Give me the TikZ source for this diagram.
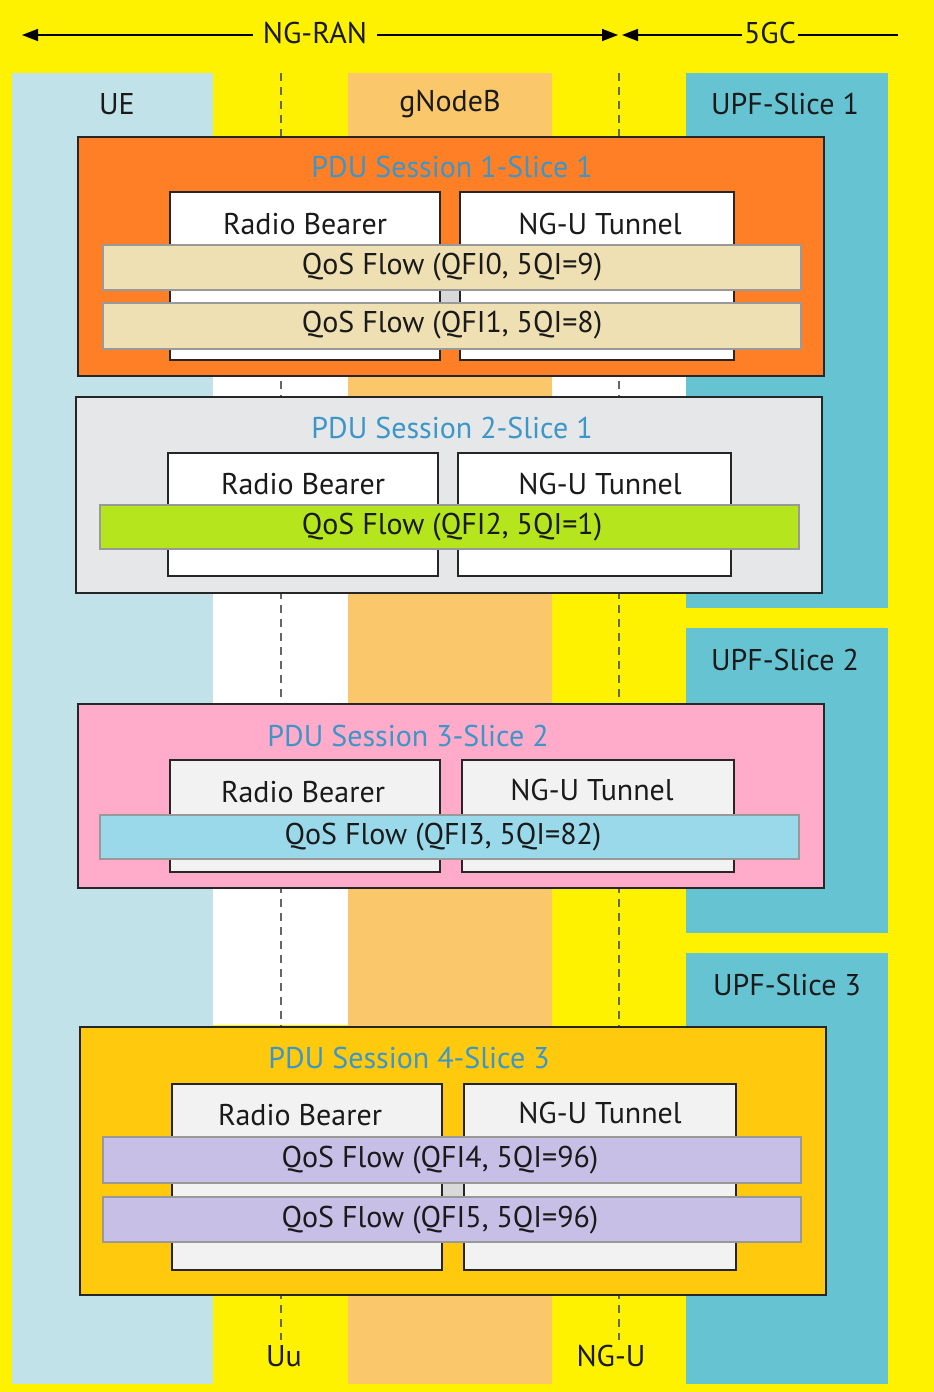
\documentclass[tikz,border=0pt]{standalone}
\usepackage{fontspec}
\setmainfont{PT Sans}
\usetikzlibrary{arrows.meta}
\definecolor{bgY}{HTML}{FFF200}
\definecolor{ueC}{HTML}{C0E2E8}
\definecolor{gnbC}{HTML}{FAC86A}
\definecolor{upfC}{HTML}{66C4D2}
\definecolor{s1C}{HTML}{FF7F27}
\definecolor{s2C}{HTML}{E6E7E8}
\definecolor{s3C}{HTML}{FFABC9}
\definecolor{s4C}{HTML}{FFC90E}
\definecolor{f01C}{HTML}{EEE0B3}
\definecolor{f2C}{HTML}{B5E61D}
\definecolor{f3C}{HTML}{99D9EA}
\definecolor{f45C}{HTML}{C8BFE7}
\definecolor{titC}{HTML}{3C96C8}
\definecolor{txtC}{HTML}{1A1A1A}
\begin{document}
\begin{tikzpicture}[x=1pt,y=-1pt,
  lbl/.style={font=\fontsize{30}{34}\selectfont,text=txtC},
  tit/.style={font=\fontsize{30}{34}\selectfont,text=titC},
  sess/.style={draw=black!85,line width=2.5pt},
  bear/.style={draw=black!85,line width=2.5pt},
  flow/.style={draw=black!40,line width=1.5pt},
  dsh/.style={draw=black!60,line width=1.5pt,dash pattern=on 8pt off 6pt},
  arr/.style={line width=1.5pt,-{Triangle[length=16pt,width=12pt]}}]
\fill[bgY] (0,0) rectangle (934,1392);
\useasboundingbox (0,0) rectangle (934,1392);
% columns
\fill[ueC] (12,73) rectangle (213,1384);
\fill[white] (213,375) rectangle (348,1025);
\fill[gnbC] (348,73) rectangle (552,1384);
\fill[white] (552,375) rectangle (686,397);
\fill[upfC] (686,73) rectangle (888,608);
\fill[upfC] (686,628) rectangle (888,933);
\fill[upfC] (686,953) rectangle (888,1384);
\draw[dsh] (281,73) -- (281,1340);
\draw[dsh] (619,73) -- (619,1340);
\node[lbl] (ue) at (117,104) {UE};
\node[lbl] (gnb) at (450,104) {gNodeB};
\node[lbl] (u1) at (785,104) {UPF-Slice 1};
\node[lbl] (u2) at (785,660) {UPF-Slice 2};
\node[lbl] (u3) at (787,985) {UPF-Slice 3};
\node[lbl] (uu) at (284,1356) {Uu};
\node[lbl] (ngu) at (611,1356) {NG-U};
% top arrows
\node[lbl,inner xsep=10pt] (ngran) at (315,33) {NG-RAN};
\node[lbl,inner xsep=2pt] (fgc) at (770,33) {5GC};
\coordinate (a1) at (22,35); \coordinate (a2) at (618,35);
\coordinate (a3) at (622,35); \coordinate (a4) at (898,35);
\draw[arr] (ngran.west |- a1) -- (a1);
\draw[arr] (ngran.east |- a2) -- (a2);
\draw[arr] (fgc.west |- a3) -- (a3);
\draw[line width=1.5pt] (fgc.east |- a4) -- (a4);
% session 1
\draw[sess,fill=s1C] (78,137) rectangle (824,376);
\node[tit] (t1) at (452,167) {PDU Session 1-Slice 1};
\fill[black!15] (440,290) rectangle (460,303);
\draw[bear,fill=white] (170,192) rectangle (440,360);
\draw[bear,fill=white] (460,192) rectangle (734,360);
\node[lbl] (rb1) at (305,224) {Radio Bearer};
\node[lbl] (ng1) at (600,224) {NG-U Tunnel};
\draw[flow,fill=f01C] (103,245) rectangle (801,290);
\node[lbl] (q0) at (452,267) {QoS Flow (QFI0, 5QI=9)};
\draw[flow,fill=f01C] (103,303) rectangle (801,349);
\node[lbl] (q1) at (452,325) {QoS Flow (QFI1, 5QI=8)};
% session 2
\draw[sess,fill=s2C] (76,397) rectangle (822,593);
\node[tit] (t2) at (452,428) {PDU Session 2-Slice 1};
\draw[bear,fill=white] (168,453) rectangle (438,576);
\draw[bear,fill=white] (458,453) rectangle (731,576);
\node[lbl] (rb2) at (303,484) {Radio Bearer};
\node[lbl] (ng2) at (600,484) {NG-U Tunnel};
\draw[flow,fill=f2C] (100,505) rectangle (799,549);
\node[lbl] (q2) at (452,527) {QoS Flow (QFI2, 5QI=1)};
% session 3
\draw[sess,fill=s3C] (78,704) rectangle (824,888);
\node[tit] (t3) at (408,736) {PDU Session 3-Slice 2};
\draw[bear,fill=black!5] (170,760) rectangle (440,872);
\draw[bear,fill=black!5] (462,760) rectangle (734,872);
\node[lbl] (rb3) at (303,792) {Radio Bearer};
\node[lbl] (ng3) at (592,790) {NG-U Tunnel};
\draw[flow,fill=f3C] (100,815) rectangle (799,859);
\node[lbl] (q3) at (443,837) {QoS Flow (QFI3, 5QI=82)};
% session 4
\draw[sess,fill=s4C] (80,1027) rectangle (826,1295);
\node[tit] (t4) at (409,1058) {PDU Session 4-Slice 3};
\fill[black!15] (442,1183) rectangle (464,1197);
\draw[bear,fill=black!5] (172,1084) rectangle (442,1270);
\draw[bear,fill=black!5] (464,1084) rectangle (736,1270);
\node[lbl] (rb4) at (300,1115) {Radio Bearer};
\node[lbl] (ng4) at (600,1113) {NG-U Tunnel};
\draw[flow,fill=f45C] (103,1137) rectangle (801,1183);
\node[lbl] (q4) at (440,1160) {QoS Flow (QFI4, 5QI=96)};
\draw[flow,fill=f45C] (103,1197) rectangle (801,1242);
\node[lbl] (q5) at (440,1220) {QoS Flow (QFI5, 5QI=96)};
\end{tikzpicture}
\end{document}
